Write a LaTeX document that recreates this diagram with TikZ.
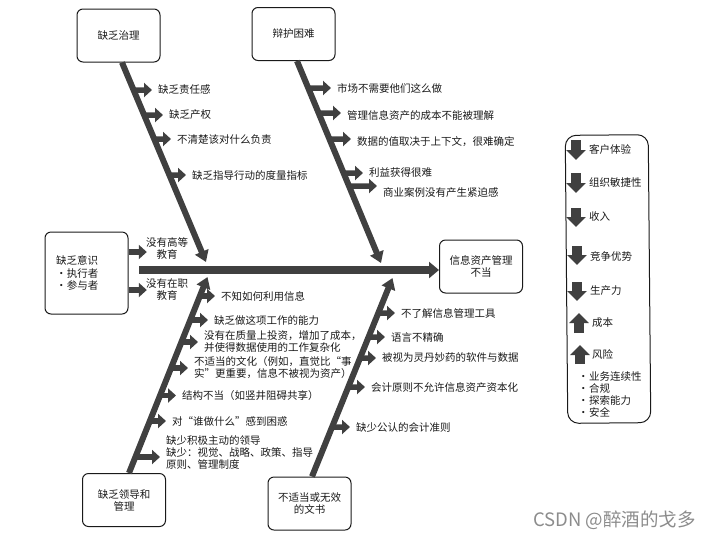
\documentclass[tikz,border=0pt]{standalone}
\usepackage{fontspec}
\setmainfont{Noto Sans CJK SC}
\usetikzlibrary{arrows.meta,calc}
\definecolor{ink}{HTML}{1A1A1A}
\definecolor{bone}{HTML}{404040}
\tikzset{
  box/.style={draw=ink,line width=1pt,rounded corners=6pt,minimum width=83pt,minimum height=53pt,inner sep=0pt,align=center,text=ink,font=\txt},
  lbl/.style={inner sep=0pt,anchor=west,align=left,text=ink,font=\txt},
  spine/.style={draw=bone,line width=8pt,-{Triangle[length=10pt,width=16pt]}},
  ribbone/.style={draw=bone,line width=6pt,-{Triangle[length=11pt,width=14pt]}},
  sidearrow/.style={draw=bone,line width=5.5pt,-{Triangle[length=8pt,width=14pt]},shorten >=6pt},
  legarrow/.style={draw=bone,line width=10pt,-{Triangle[length=10pt,width=19pt]}}
}
\newcommand{\txt}{\fontsize{10.5}{12}\selectfont}
\newcommand{\sidearr}[4][0]{\draw[sidearrow] (intersection cs:first line={(#2)--(#3)},second line={([yshift=#1]#4.west)--([xshift=10pt,yshift=#1]#4.west)}) -- ([yshift=#1]#4.west);}
\newcommand{\dotitem}{\makebox[11pt][l]{·}}
\begin{document}
\begin{tikzpicture}[x=1pt,y=-1pt]
\useasboundingbox (0,0) rectangle (719,539);
% boxes
\node[box] (gov) at (118.5,35.5) {缺乏治理};
\node[box] (def) at (293.5,34) {辩护困难};
\node[box,minimum height=82pt,text width=61pt,align=left] (aware) at (86.5,273) {缺乏意识\\[0.5pt]\dotitem 执行者\\[0.5pt]\dotitem 参与者};
\node[box] (lead) at (124,500) {缺乏领导和\\管理};
\node[box] (docs) at (309.5,503.5) {不适当或无效\\的文书};
\node[box] (res) at (481,266.5) {信息资产管理\\不当};
% spine and bones
\coordinate (tailpt) at (139,270);
\coordinate (b1s) at ([xshift=3.5pt]gov.south);
\coordinate (b1e) at (206,262);
\coordinate (b2s) at ([xshift=3.5pt]def.south);
\coordinate (b2e) at (381,263);
\coordinate (b3s) at ([xshift=5pt]lead.north);
\coordinate (b3e) at (207.5,277);
\coordinate (b4s) at ([xshift=2.5pt]docs.north);
\coordinate (b4e) at (392.5,278);
% labels
\node[lbl] (a1) at (158,90) {缺乏责任感};
\node[lbl] (a2) at (169,115) {缺乏产权};
\node[lbl] (a3) at (177,139) {不清楚该对什么负责};
\node[lbl] (a4) at (192,175) {缺乏指导行动的度量指标};
\node[lbl] (c1) at (337,88) {市场不需要他们这么做};
\node[lbl] (c2) at (347,115) {管理信息资产的成本不能被理解};
\node[lbl] (c3) at (357,142) {数据的值取决于上下文，很难确定};
\node[lbl] (c4) at (369,173) {利益获得很难};
\node[lbl] (c5) at (383,193) {商业案例没有产生紧迫感};
\node[lbl,align=center,anchor=center] (m1) at (167,248) {没有高等\\教育};
\node[lbl,align=center,anchor=center] (m2) at (167,290) {没有在职\\教育};
\node[lbl] (d1) at (221,296) {不知如何利用信息};
\node[lbl] (d2) at (214,320) {缺乏做这项工作的能力};
\node[lbl] (d3) at (204,342) {没有在质量上投资，增加了成本，\\并使得数据使用的工作复杂化};
\node[lbl] (d4) at (194,368) {不适当的文化（例如，直觉比“事\\实”更重要，信息不被视为资产）};
\node[lbl] (d5) at (182,395.5) {结构不当（如竖井阻碍共享）};
\node[lbl] (d6) at (172,421) {对“谁做什么”感到困惑};
\node[lbl] (d7) at (166,452) {缺少积极主动的领导\\缺少：视觉、战略、政策、指导\\原则、管理制度};
\node[lbl] (e1) at (401,313) {不了解信息管理工具};
\node[lbl] (e2) at (391,337) {语言不精确};
\node[lbl] (e3) at (382,358) {被视为灵丹妙药的软件与数据};
\node[lbl] (e4) at (371,387) {会计原则不允许信息资产资本化};
\node[lbl] (e5) at (356,427) {缺少公认的会计准则};
% side arrows
\foreach \n in {a1,a2,a3,a4}{\sidearr{b1s}{b1e}{\n}}
\sidearr{b2s}{b2e}{c1}
\sidearr[2]{b2s}{b2e}{c2}
\sidearr[3]{b2s}{b2e}{c3}
\sidearr{b2s}{b2e}{c4}
\sidearr[7]{b2s}{b2e}{c5}
\foreach \n in {d1,d2,d3,d4,d5,d6}{\sidearr{b3s}{b3e}{\n}}
\sidearr[-5]{b3s}{b3e}{d7}
\foreach \n in {e1,e2,e3,e4,e5}{\sidearr{b4s}{b4e}{\n}}
\draw[sidearrow,line width=6pt,-{Triangle[length=8pt,width=14pt]},shorten >=-1pt] (aware.east |- 0,252) -- (m1.west |- 0,252);
\draw[sidearrow,line width=6pt,-{Triangle[length=8pt,width=14pt]},shorten >=-1pt] (aware.east |- 0,290) -- (m2.west |- 0,290);
\draw[spine] (tailpt) -- (res.west |- tailpt);
\draw[ribbone] (b1s) -- (b1e);
\draw[ribbone] (b2s) -- (b2e);
\draw[ribbone] (b3s) -- (b3e);
\draw[ribbone] (b4s) -- (b4e);
% legend
\node[box,rounded corners=11pt,minimum width=83pt,minimum height=288pt,rotate=0.5] (legend) at (608,279) {};
\node[lbl] (l1) at (589,149) {客户体验};
\node[lbl] (l2) at (589,183) {组织敏捷性};
\node[lbl] (l3) at (589,217) {收入};
\node[lbl] (l4) at (590,256) {竞争优势};
\node[lbl] (l5) at (590,291) {生产力};
\node[lbl] (l6) at (592,323) {成本};
\node[lbl] (l7) at (592,354) {风险};
\node[lbl] (l8) at (578,394.5) {\dotitem 业务连续性\\\dotitem 合规\\\dotitem 探索能力\\\dotitem 安全};
\draw[legarrow] (576,140) -- (576,160);
\draw[legarrow] (576,173) -- (576,193);
\draw[legarrow] (576,208) -- (576,227);
\draw[legarrow] (577,246) -- (577,265);
\draw[legarrow] (577,282) -- (577,301);
\draw[legarrow] (579,333) -- (579,313);
\draw[legarrow] (580,364) -- (580,345);
% watermark
\node[lbl,text=black!45,font=\fontsize{18.5}{20}\selectfont] (wm) at (533,520) {CSDN @醉酒的戈多};
\end{tikzpicture}
\end{document}
